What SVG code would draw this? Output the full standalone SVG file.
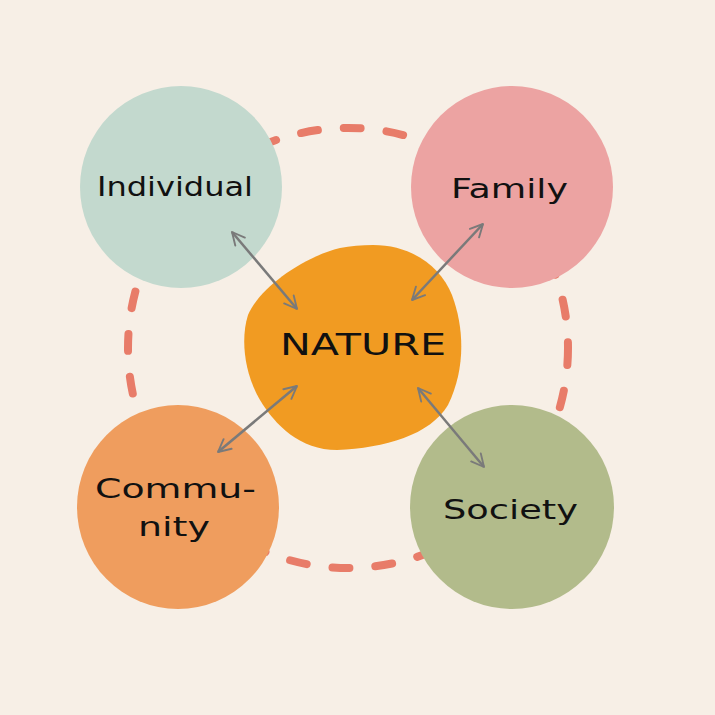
<svg xmlns="http://www.w3.org/2000/svg" width="715" height="715" viewBox="0 0 715 715">
<defs>
<style>
.lbl{font-family:"DejaVu Sans","Liberation Sans",sans-serif;fill:#111;text-anchor:start;}
.arr{stroke:#7a7a7a;stroke-width:2.5;fill:none;marker-start:url(#head);marker-end:url(#head);}
</style>
<marker id="head" viewBox="0 0 12 12" refX="11" refY="6" markerWidth="15" markerHeight="15" markerUnits="userSpaceOnUse" orient="auto-start-reverse">
<path d="M1 1 L11 6 L1 11" fill="none" stroke="#7a7a7a" stroke-width="1.5" stroke-linecap="round" stroke-linejoin="round"/>
</marker>
</defs>
<rect width="715" height="715" fill="#F7EFE6"/>
<circle cx="348" cy="348" r="220" fill="none" stroke="#E87C69" stroke-width="8" stroke-linecap="round" stroke-dasharray="17 26"/>
<g id="individual">
<circle cx="181" cy="187" r="101" fill="#C3D9CE"/>
<text class="lbl" x="97" y="196" font-size="26" textLength="156" lengthAdjust="spacingAndGlyphs">Individual</text>
</g>
<g id="family">
<circle cx="512" cy="187" r="101" fill="#ECA3A2"/>
<text class="lbl" x="451" y="198" font-size="26" textLength="117" lengthAdjust="spacingAndGlyphs">Family</text>
</g>
<g id="community">
<ellipse cx="178" cy="507" rx="101" ry="102" fill="#EF9D5E"/>
<text class="lbl" x="95" y="498" font-size="26" textLength="161" lengthAdjust="spacingAndGlyphs">Commu-</text>
<text class="lbl" x="138" y="536" font-size="26" textLength="72" lengthAdjust="spacingAndGlyphs">nity</text>
</g>
<g id="society">
<circle cx="512" cy="507" r="102" fill="#B2BB8B"/>
<text class="lbl" x="443" y="519" font-size="26" textLength="135" lengthAdjust="spacingAndGlyphs">Society</text>
</g>
<g id="nature">
<path d="M373 245 C410 245 440 265 452 295 C465 330 465 370 448 405 C430 435 385 448 337 450 C300 450 275 425 260 400 C245 375 240 340 248 315 C258 290 300 258 340 248 C350 246 362 245 373 245 Z" fill="#F19B22"/>
<text class="lbl" x="280" y="355" font-size="31" textLength="166" lengthAdjust="spacingAndGlyphs">NATURE</text>
</g>
<g id="connectors">
<line class="arr" x1="232" y1="232" x2="297" y2="309"/>
<line class="arr" x1="483" y1="224" x2="412" y2="300"/>
<line class="arr" x1="218" y1="452" x2="297" y2="386"/>
<line class="arr" x1="484" y1="467" x2="418" y2="388"/>
</g>
</svg>
